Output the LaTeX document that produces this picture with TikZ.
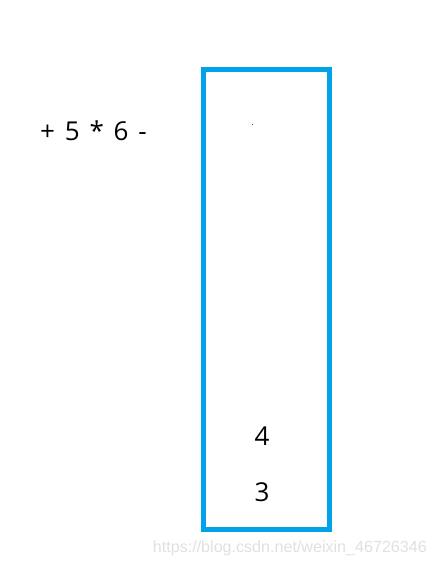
\documentclass[tikz,border=0pt]{standalone}
\usepackage{fontspec}
\setmainfont{Open Sans}
\newfontfamily\wmfont{Liberation Sans}
\definecolor{stackblue}{HTML}{00A2E8}
\definecolor{wmgray}{HTML}{E0E0E0}
\newcommand{\gapsp}{\hspace{9.8pt}}
\begin{document}
\begin{tikzpicture}[x=1pt,y=-1pt,
  lbl/.style={inner sep=0pt, font=\fontsize{26}{30}\selectfont, text=black},
  wm/.style={inner sep=0pt, font=\wmfont\fontsize{16.1}{18}\selectfont, text=wmgray}]
\useasboundingbox (0,0) rectangle (436,566);
\draw[stackblue, line width=5pt] (203.5,69.5) rectangle (329.5,529);
\node[lbl] (expr) at (93.5,131) {+\gapsp5\gapsp*\gapsp6\gapsp-};
\fill[black!70] (251.5,123.5) rectangle (252.5,124.5);
\node[lbl] (four) at (262,436) {4};
\node[lbl] (three) at (262,492) {3};
\node[wm, anchor=east] (mark) at (427,548.5) {https://blog.csdn.net/weixin\_46726346};
\end{tikzpicture}
\end{document}
